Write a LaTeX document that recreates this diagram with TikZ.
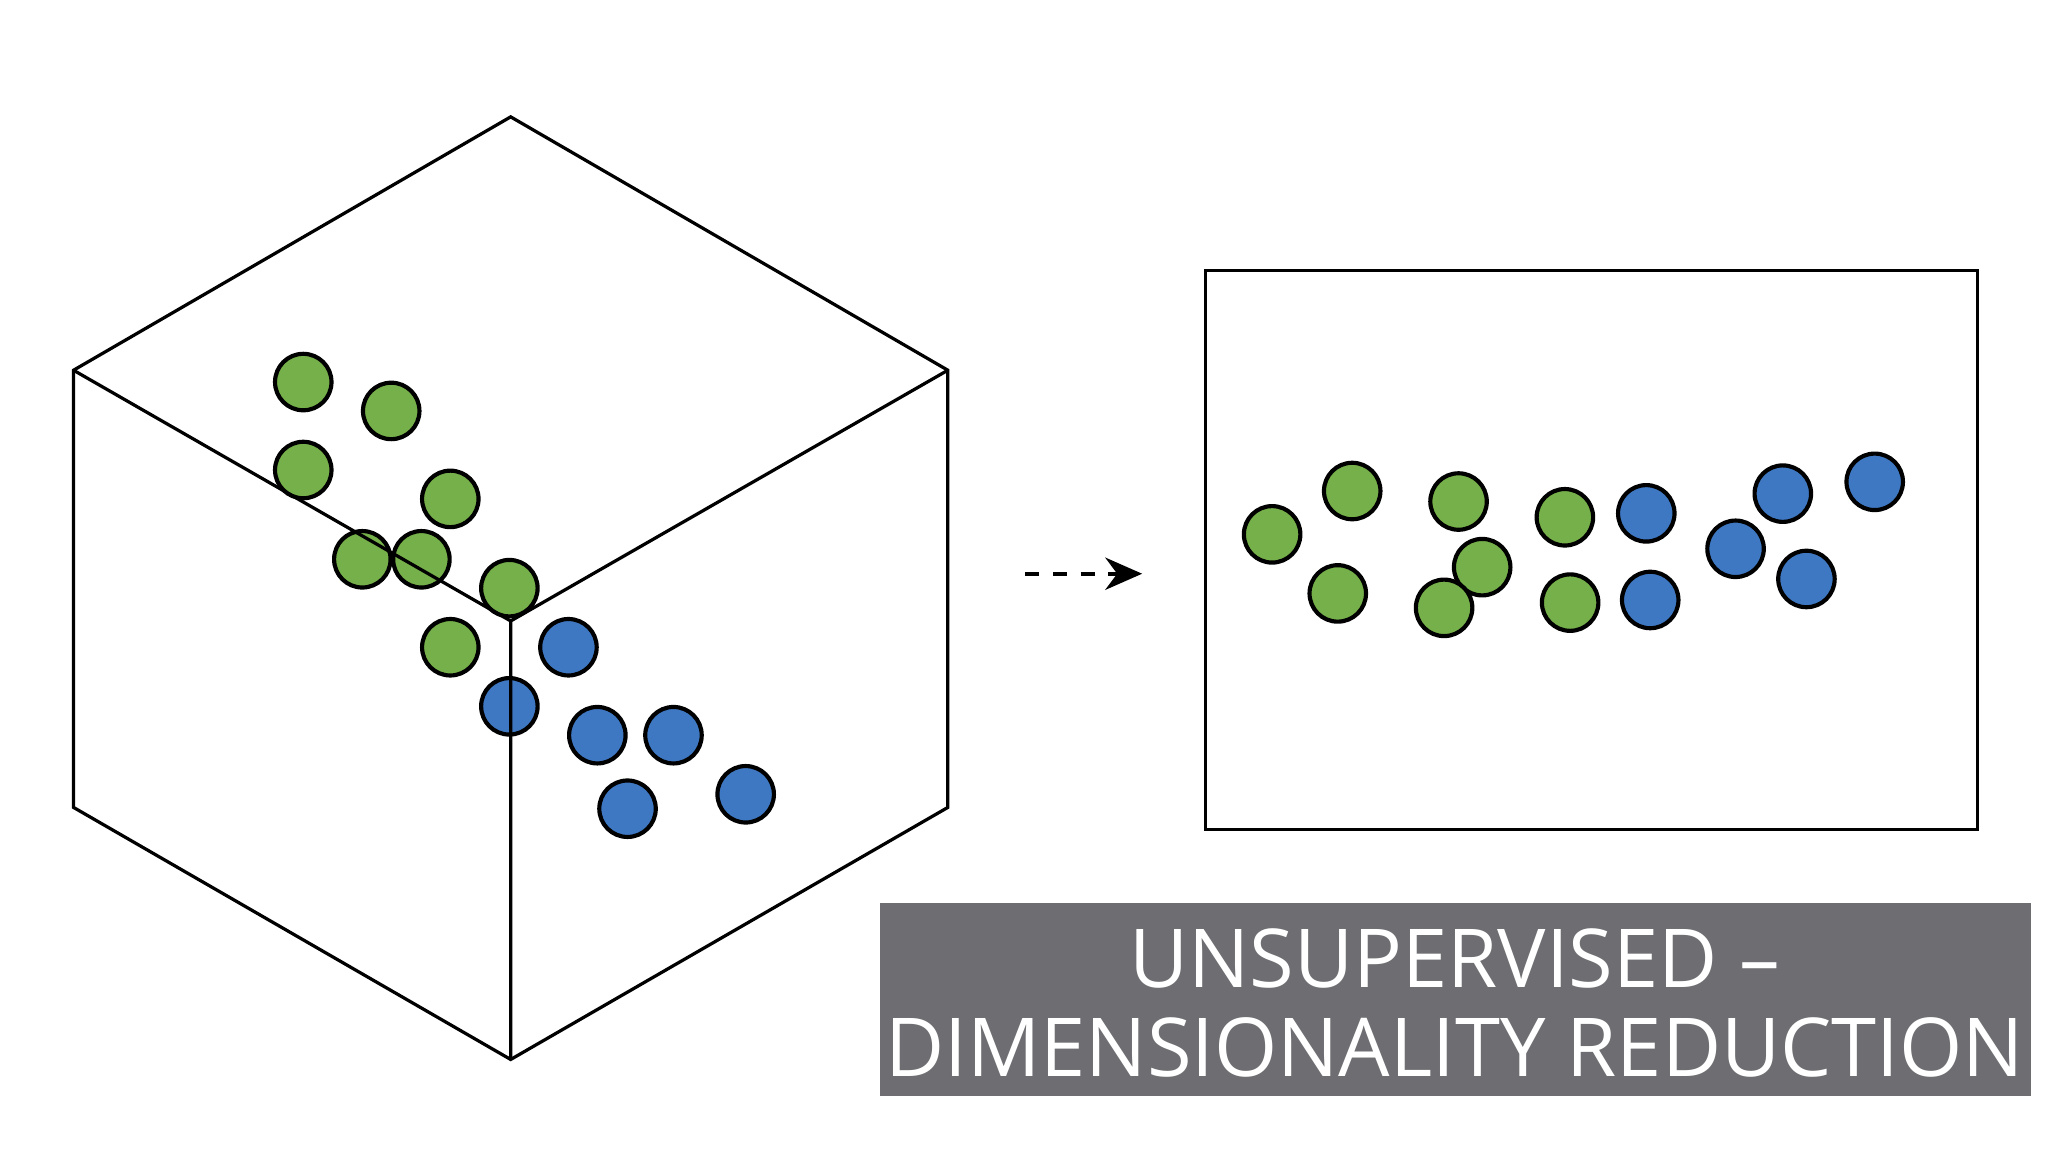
\documentclass[tikz,border=0pt]{standalone}
\usepackage{fontspec}
\setmainfont{Open Sans}
\usetikzlibrary{arrows.meta}
\definecolor{gr}{HTML}{76B04A}
\definecolor{bl}{HTML}{3E78C2}
\definecolor{bx}{HTML}{6E6D71}
\begin{document}
\begin{tikzpicture}[x=0.01cm,y=-0.01cm,
 dot/.style={circle,draw=black,line width=0.9pt,minimum size=0.43cm,inner sep=0pt},
 g/.style={dot,fill=gr}, b/.style={dot,fill=bl},
 edge/.style={line width=0.7pt}]
\useasboundingbox (0,0) rectangle (1560,877.5);
\coordinate (T) at (389,89); \coordinate (LT) at (56,282); \coordinate (RT) at (722,282);
\coordinate (C) at (389,473); \coordinate (LB) at (56,615); \coordinate (RB) at (722,615);
\coordinate (B) at (389,807);
\foreach \n/\x/\y in {g1/231/291,g2/298/313,g3/231/358,g4/343/380,g5/276/426,g6/321/426,g7/388/448,g8/343/493}
 \node[g] (\n) at (\x,\y) {};
\foreach \n/\x/\y in {b1/433/493,b2/388/538,b3/455/560,b4/513/560,b5/478/616,b6/568/605}
 \node[b] (\n) at (\x,\y) {};
\draw[edge] (T)--(RT)--(RB)--(B)--(LB)--(LT)--cycle;
\draw[edge] (LT)--(C)--(RT) (C)--(B);
\draw[edge] (918,206) rectangle (1506,632);
\foreach \n/\x/\y in {h1/969/407,h2/1030/374,h3/1019/452,h4/1111/382,h5/1129/432,h6/1100/463,h7/1192/394,h8/1196/459}
 \node[g] (\n) at (\x,\y) {};
\foreach \n/\x/\y in {c1/1254/391,c2/1257/457,c3/1322/418,c4/1358/376,c5/1376/441,c6/1428/367}
 \node[b] (\n) at (\x,\y) {};
\coordinate (a1) at (781,437); \coordinate (a2) at (870,437);
\draw[line width=0.8pt,dashed,-{Stealth[length=8pt,width=7pt]}] (a1)--(a2);
\fill[bx] (670,688) rectangle (1547,835);
\node[text=white,font=\fontsize{17.6}{19.3}\selectfont,align=center] (lab) at (1108,764)
 {UNSUPERVISED –\\DIMENSIONALITY REDUCTION};
\end{tikzpicture}
\end{document}
